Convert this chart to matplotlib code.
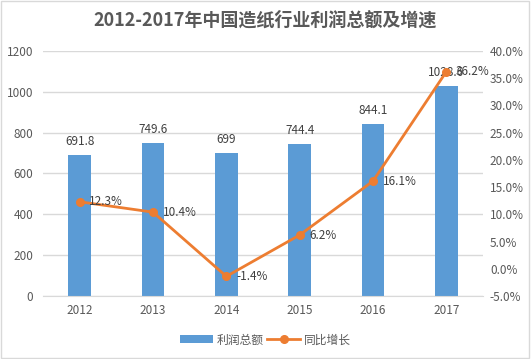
import matplotlib
matplotlib.use("Agg")
import matplotlib.pyplot as plt
from matplotlib.patches import Rectangle

plt.rcParams['font.family'] = ['Noto Sans CJK SC', 'DejaVu Sans']

years = ['2012', '2013', '2014', '2015', '2016', '2017']
profit = [691.8, 749.6, 699, 744.4, 844.1, 1028.6]
growth = [12.3, 10.4, -1.4, 6.2, 16.1, 36.2]
profit_labels = ['691.8', '749.6', '699', '744.4', '844.1', '1028.6']
growth_labels = ['12.3%', '10.4%', '-1.4%', '6.2%', '16.1%', '36.2%']
left_ticks = [0, 200, 400, 600, 800, 1000, 1200]
right_ticks = [-5, 0, 5, 10, 15, 20, 25, 30, 35, 40]

bar_color = '#5B9BD5'
line_color = '#ED7D31'
text_color = '#595959'

fig = plt.figure(figsize=(5.31, 3.59), dpi=100)
fig.patches.append(Rectangle((0.002, 0.003), 0.995, 0.994, transform=fig.transFigure,
                             fill=False, edgecolor='#D9D9D9', linewidth=1))

ax = fig.add_axes([0.081, 0.1755, 0.8286, 0.6825])
x = list(range(len(years)))
ax.bar(x, profit, width=0.31, color=bar_color, zorder=2, label='利润总额')
ax.set_xlim(-0.5, len(years) - 0.5)
ax.set_ylim(0, 1200)
ax.set_yticks(left_ticks)
ax.set_xticks(x)
ax.set_xticklabels(years)
ax.yaxis.grid(True, color='#D9D9D9', linewidth=1, zorder=0)
ax.set_axisbelow(True)
for s in ['top', 'left', 'right']:
    ax.spines[s].set_visible(False)
ax.spines['bottom'].set_color('#D9D9D9')
ax.tick_params(axis='both', length=0, colors=text_color, labelsize=8.5)
ax.tick_params(axis='y', pad=7)
ax.tick_params(axis='x', pad=6)
for xi, v, lab in zip(x, profit, profit_labels):
    ax.annotate(lab, (xi, v), xytext=(0, 5), textcoords='offset points',
                ha='center', va='bottom', fontsize=8.5, color='#404040')

ax2 = ax.twinx()
ax2.plot(x, growth, color=line_color, linewidth=2, marker='o', markersize=5.5,
         zorder=3, label='同比增长')
ax2.set_ylim(-5, 40)
ax2.set_yticks(right_ticks)
ax2.set_yticklabels([f'{t:.1f}%' for t in right_ticks])
for s in ['top', 'left', 'right', 'bottom']:
    ax2.spines[s].set_visible(False)
ax2.tick_params(axis='y', length=0, colors=text_color, labelsize=8.5, pad=5)
for xi, v, lab in zip(x, growth, growth_labels):
    ax2.annotate(lab, (xi, v), xytext=(7, 0), textcoords='offset points',
                 ha='left', va='center', fontsize=8.5, color='#404040')

fig.text(0.5, 0.945, '2012-2017年中国造纸行业利润总额及增速', ha='center', va='center',
         fontsize=13, fontweight='bold', color=text_color)

h1, l1 = ax.get_legend_handles_labels()
h2, l2 = ax2.get_legend_handles_labels()
fig.legend(h1 + h2, l1 + l2, loc='center', bbox_to_anchor=(0.5, 0.053), ncol=2,
           frameon=False, fontsize=8.5, labelcolor=text_color, handlelength=2.8,
           columnspacing=0.3, handletextpad=0.3)

fig.savefig('out.png', dpi=100)
